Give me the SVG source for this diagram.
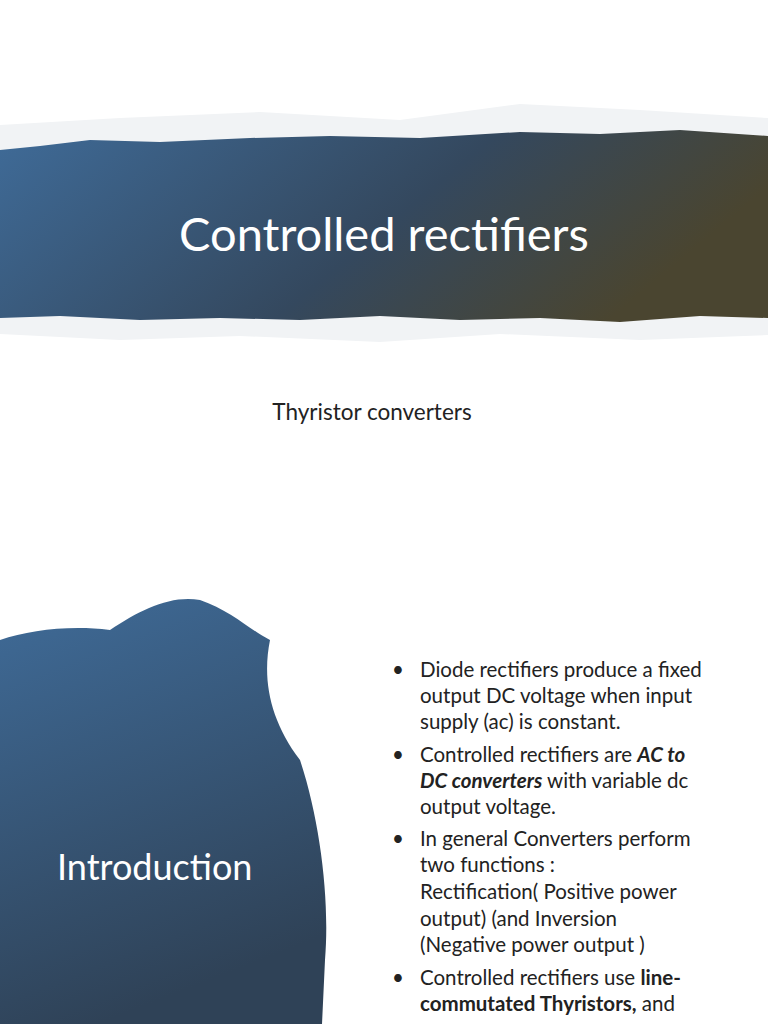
<svg xmlns="http://www.w3.org/2000/svg" width="768" height="1024" viewBox="0 0 768 1024">
<defs>
<linearGradient id="band" x1="0" y1="0" x2="1" y2="0.3">
<stop offset="0" stop-color="#3f6b98"/><stop offset="0.6" stop-color="#34485e"/><stop offset="1" stop-color="#4a4530"/>
</linearGradient>
<linearGradient id="blob" x1="0" y1="0" x2="0.3" y2="1">
<stop offset="0" stop-color="#3f6b98"/><stop offset="1" stop-color="#2f4257"/>
</linearGradient>
</defs>
<style>
text{font-family:Lato,"Open Sans",sans-serif}
.b{font-size:20.5px;fill:#222}
</style>
<rect width="768" height="1024" fill="#fff"/>
<path d="M0,125 L120,118 260,112 400,120 520,104 640,110 768,118 L768,335 640,340 500,334 380,342 240,336 120,340 0,334 Z" fill="#f1f3f5"/>
<path d="M0,150 L40,146 90,140 160,142 250,138 330,136 420,138 520,132 600,134 680,130 768,136 L768,318 700,316 620,322 540,318 460,320 380,316 300,320 220,318 140,320 60,316 0,318 Z" fill="url(#band)"/>
<text x="384" y="251" font-size="47" fill="#fff" text-anchor="middle">Controlled rectifiers</text>
<text x="372" y="420" font-size="22.5" fill="#222" text-anchor="middle">Thyristor converters</text>
<path d="M0,640 C30,630 70,625 110,630 C140,610 170,595 200,600 C230,610 250,630 270,640 C262,680 270,720 300,760 C320,820 330,900 325,960 L322,1024 L0,1024 Z" fill="url(#blob)"/>
<text x="57" y="880" font-size="36" fill="#fff">Introduction</text>
<g class="b">
<text x="392" y="677">•</text><text x="420" y="677">Diode rectifiers produce a fixed</text>
<text x="420" y="703">output DC voltage when input</text>
<text x="420" y="729">supply (ac) is constant.</text>
<text x="392" y="762">•</text><text x="420" y="762">Controlled rectifiers are <tspan font-weight="bold" font-style="italic">AC to</tspan></text>
<text x="420" y="788"><tspan font-weight="bold" font-style="italic">DC converters</tspan> with variable dc</text>
<text x="420" y="814">output voltage.</text>
<text x="392" y="846">•</text><text x="420" y="846">In general Converters perform</text>
<text x="420" y="872">two functions :</text>
<text x="420" y="899">Rectification( Positive power</text>
<text x="420" y="926">output) (and  Inversion</text>
<text x="420" y="952">(Negative power output )</text>
<text x="392" y="985">•</text><text x="420" y="985">Controlled rectifiers use <tspan font-weight="bold">line-</tspan></text>
<text x="420" y="1011"><tspan font-weight="bold">commutated Thyristors,</tspan> and</text>
</g>
</svg>
